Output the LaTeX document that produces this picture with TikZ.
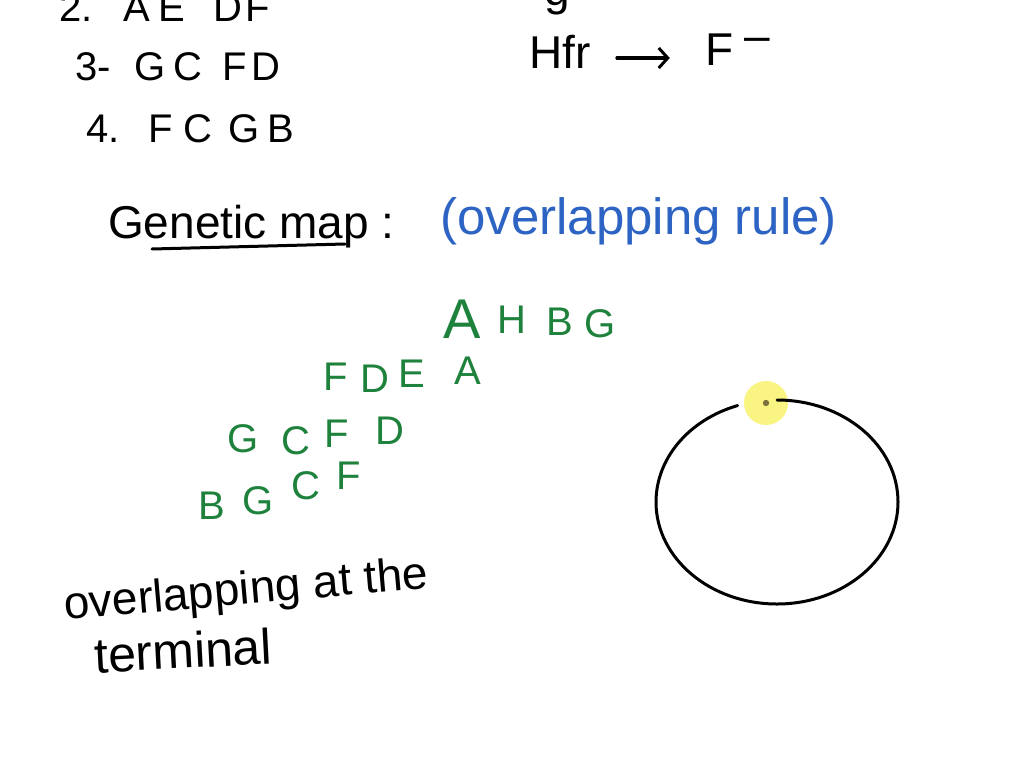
\documentclass[tikz,border=0pt]{standalone}
\usepackage{fontspec}
\setmainfont{Liberation Sans}
\usetikzlibrary{arrows.meta}
\definecolor{pengreen}{RGB}{30,130,60}
\definecolor{penblue}{RGB}{45,100,195}
\definecolor{hilite}{RGB}{250,245,130}
\definecolor{dotcol}{RGB}{125,115,60}
\begin{document}
\begin{tikzpicture}[x=1pt,y=-1pt,
  ink/.style={font=\fontsize{40}{40}\selectfont, anchor=base, inner sep=0pt, text=black},
  big/.style={ink, font=\fontsize{46}{46}\selectfont},
  grn/.style={ink, text=pengreen},
  blu/.style={ink, text=penblue, font=\fontsize{51}{51}\selectfont},
  pen/.style={line width=3pt, line cap=round, line join=round}]
\useasboundingbox (0,0) rectangle (1024,768);
\clip (0,0) rectangle (1024,768);
\fill[white] (0,0) rectangle (1024,768);

% list rows
\node[ink] (n2) at (76,22) {2.};
\node[ink] (r2a) at (137,22) {A};
\node[ink] (r2b) at (172,22) {E};
\node[ink] (r2c) at (228,22) {D};
\node[ink] (r2d) at (258,22) {F};

\node[ink] (n3) at (93,80) {3-};
\node[ink] (r3a) at (150,80) {G};
\node[ink] (r3b) at (188,80) {C};
\node[ink] (r3c) at (235,80) {F};
\node[ink] (r3d) at (266,80) {D};

\node[ink] (n4) at (103,142) {4.};
\node[ink] (r4a) at (161,142) {F};
\node[ink] (r4b) at (198,142) {C};
\node[ink] (r4c) at (244,142) {G};
\node[ink] (r4d) at (281,142) {B};

% top right
\node[big] (gfrag) at (557,6) {g};
\node[big] (hfr) at (560,68) {Hfr};
\node[big] (fm) at (720,66) {F};
\node[big] (minus) at (757,52) {–};
\draw[pen, -{Straight Barb[length=9pt,width=20pt,line width=3pt]}]
  (hfr.base east) ++(26,-10) coordinate (a0) -- ([xshift=-36pt]fm.base west |- a0);

% genetic map
\node[big, anchor=base west] (gm) at (108,238) {Genetic map :};
\draw[pen] (152,249) -- (345,244);
\node[blu, anchor=base west] (rule) at (440,234) {(overlapping rule)};

% green rows
\node[grn, font=\fontsize{56}{56}\selectfont] (g1a) at (462,338) {A};
\node[grn] (g1b) at (512,333) {H};
\node[grn] (g1c) at (560,335) {B};
\node[grn] (g1d) at (600,337) {G};

\node[grn] (g2a) at (336,390) {F};
\node[grn] (g2b) at (375,392) {D};
\node[grn] (g2c) at (412,387) {E};
\node[grn] (g2d) at (468,384) {A};

\node[grn] (g3a) at (243,452) {G};
\node[grn] (g3b) at (296,454) {C};
\node[grn] (g3c) at (337,447) {F};
\node[grn] (g3d) at (390,444) {D};

\node[grn] (g4a) at (212,519) {B};
\node[grn] (g4b) at (258,514) {G};
\node[grn] (g4c) at (306,499) {C};
\node[grn] (g4d) at (349,489) {F};

% bottom text
\node[ink, font=\fontsize{46}{46}\selectfont, anchor=base west, rotate=5] (ov) at (65,620) {overlapping at the};
\node[ink, font=\fontsize{50}{50}\selectfont, anchor=base west, rotate=3] (term) at (95,673) {terminal};

% circle with gap and highlight
\coordinate (cc) at (777,502);
\fill[hilite] (766,403) circle[radius=22];
\draw[pen] (cc) ++(-90:121 and 102) coordinate (cstart)
  arc[start angle=-90, end angle=251, x radius=121, y radius=102];
\fill[dotcol] (766,403) circle[radius=3.2];
\end{tikzpicture}
\end{document}
